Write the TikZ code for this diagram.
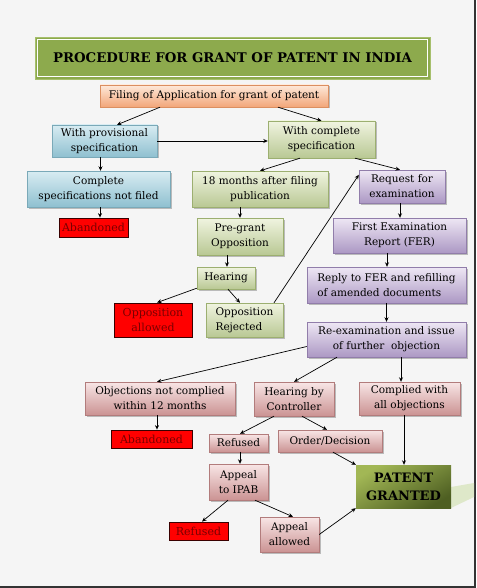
\documentclass[tikz,border=0pt]{standalone}
\usepackage{fontspec}
\setmainfont{DejaVu Serif}
\usetikzlibrary{arrows.meta,shadows,calc}
\definecolor{bgc}{HTML}{F5F5F5}
\definecolor{blueL}{HTML}{D8ECF2}
\definecolor{blueD}{HTML}{8FC0D0}
\definecolor{blueB}{HTML}{7AA9B8}
\definecolor{greenL}{HTML}{F0F4E0}
\definecolor{greenD}{HTML}{B9C894}
\definecolor{greenB}{HTML}{9CAF70}
\definecolor{purpL}{HTML}{EEE7F4}
\definecolor{purpD}{HTML}{AC98C4}
\definecolor{purpB}{HTML}{917DAA}
\definecolor{pinkL}{HTML}{F8E6E6}
\definecolor{pinkD}{HTML}{CB9393}
\definecolor{pinkB}{HTML}{B27C7C}
\definecolor{orL}{HTML}{FEE9DA}
\definecolor{orD}{HTML}{F2A679}
\definecolor{orB}{HTML}{DB8F61}
\definecolor{titleG}{HTML}{8DAA4D}
\definecolor{titleB}{HTML}{A6BF6C}
\definecolor{patL}{HTML}{A2B755}
\definecolor{patD}{HTML}{4E5F22}
\definecolor{redtx}{HTML}{7A0000}
\definecolor{redB}{HTML}{3A0000}
\tikzset{
  sz/.style 2 args={minimum width=#1pt, minimum height=#2pt},
  base/.style={inner sep=0pt, align=center, font=\fontsize{10.5}{15}\selectfont,
    drop shadow={shadow xshift=1.5pt, shadow yshift=-1.5pt, opacity=0.35, fill=black!70}},
  bluebox/.style={base, top color=blueL, bottom color=blueD, draw=blueB},
  greenbox/.style={base, top color=greenL, bottom color=greenD, draw=greenB},
  purpbox/.style={base, top color=purpL, bottom color=purpD, draw=purpB},
  pinkbox/.style={base, top color=pinkL, bottom color=pinkD, draw=pinkB},
  orbox/.style={base, top color=orL, bottom color=orD, draw=orB},
  redbox/.style={inner sep=0pt, align=center, font=\fontsize{11}{15}\selectfont,
    fill=red, draw=redB, line width=0.8pt, text=redtx},
  arr/.style={-{Stealth[length=4.5pt,width=4pt]}, line width=0.7pt, black}
}
\begin{document}
\begin{tikzpicture}[x=1pt,y=-1pt]
\fill[bgc] (0,0) rectangle (476,588);
\useasboundingbox (0,0) rectangle (476,588);
\draw[line width=2pt, black!80] (475,0) -- (475,587) -- (0,587);

% title
\node[sz={395}{42}, fill=titleG, draw=titleB, inner sep=0pt,
  font=\fontsize{13.3}{15}\selectfont\bfseries] (title) at (232.5,58)
  {PROCEDURE FOR GRANT OF PATENT IN INDIA};
\draw[white, line width=0.7pt] ([shift={(3,3)}]title.north west) rectangle ([shift={(-3,-3)}]title.south east);

% patent shadow wedge
\fill[green!20!olive!25!white, opacity=0.8] (451,487) -- (474,483) -- (474,497) -- (451,508) -- cycle;

\node[orbox, sz={228}{22}] (filing) at (214,96) {Filing of Application for grant of patent};
\node[bluebox, sz={105}{32}] (prov) at (104.5,141) {With provisional\\specification};
\node[greenbox, sz={107}{37}] (comp) at (321.5,139.5) {With complete\\specification};
\node[bluebox, sz={143}{36}] (notfiled) at (98.5,189) {Complete\\specifications not filed};
\node[redbox, sz={69}{19}] (aband1) at (93.5,227.5) {Abandoned};
\node[greenbox, sz={136}{36}] (months) at (260,189) {18 months after filing\\publication};
\node[purpbox, sz={86}{33}] (request) at (402,186.5) {Request for\\examination};
\node[greenbox, sz={86}{37}] (pregrant) at (240,236.5) {Pre-grant\\Opposition};
\node[purpbox, sz={133}{35}] (fer) at (399.5,235.5) {First Examination\\Report (FER)};
\node[greenbox, sz={58}{22}] (hearing) at (226,278) {Hearing};
\node[purpbox, sz={159}{36}, align=left] (reply) at (386.5,285) {Reply to FER and refilling\\of amended documents};
\node[redbox, sz={78}{34}] (oppall) at (153,320) {Opposition\\allowed};
\node[greenbox, sz={77}{34}, align=left] (opprej) at (244.5,320) {Opposition\\Rejected};
\node[purpbox, sz={159}{35}] (reexam) at (386.5,339.5) {Re-examination and issue\\of further\ \ objection};
\node[pinkbox, sz={150}{33}] (objnot) at (160,398.5) {Objections not complied\\within 12 months};
\node[pinkbox, sz={80}{34}] (hearctrl) at (294,399) {Hearing by\\Controller};
\node[pinkbox, sz={101}{33}] (complied) at (409.5,398.5) {Complied with\\all objections};
\node[redbox, sz={81}{18}] (aband2) at (151.5,439) {Abandoned};
\node[pinkbox, sz={59}{18}] (refused1) at (238.5,443) {Refused};
\node[pinkbox, sz={104}{22}] (order) at (330,441) {Order/Decision};
\node[pinkbox, sz={59}{36}] (appeal) at (238.5,482) {Appeal\\to IPAB};
\node[sz={95}{43}, inner sep=0pt, align=center, top color=patL, bottom color=patD, shading angle=30,
  font=\fontsize{13}{18}\selectfont\bfseries] (patent) at (403.5,486.5) {PATENT\\GRANTED};
\node[redbox, sz={59}{18}] (refused2) at (198.5,531) {Refused};
\node[pinkbox, sz={59}{35}] (allowed) at (289.5,534.5) {Appeal\\allowed};

% connectors
\draw[arr] ([xshift=-54pt]filing.south) -- ([xshift=12.5pt]prov.north);
\draw[arr] ([xshift=64pt]filing.south) -- (comp.north);
\draw[arr] (prov.east) -- (prov.east -| comp.west);
\draw[arr] ([xshift=-4pt]prov.south) -- ([xshift=-4pt]prov.south |- notfiled.north);
\draw[arr] ([xshift=1.5pt]notfiled.south) -- ([xshift=1.5pt]notfiled.south |- aband1.north);
\draw[arr] ([xshift=-21.5pt]comp.south) -- (months.north);
\draw[arr] ([xshift=33.5pt]comp.south) -- ([xshift=-2pt]request.north);
\draw[arr] ([xshift=-20pt]months.south) -- ([xshift=-20pt]months.south |- pregrant.north);
\draw[arr] ([xshift=-2pt]request.south) -- ([xshift=-2pt]request.south |- fer.north);
\draw[arr] ([xshift=-13pt]pregrant.south) -- ([xshift=-13pt]pregrant.south |- hearing.north);
\draw[arr] ([xshift=-12.5pt]fer.south) -- ([xshift=-12.5pt]fer.south |- reply.north);
\draw[arr] ([yshift=1pt]hearing.south west) -- ([xshift=4pt]oppall.north);
\draw[arr] ([xshift=2pt]hearing.south) -- ([xshift=-4.5pt]opprej.north);
\draw[arr] ([xshift=29.5pt]opprej.north) -- ([yshift=-5pt]request.north west);
\draw[arr] (reply.south) -- (reply.south |- reexam.north);
\draw[arr] ([yshift=-7pt]reexam.west) -- ([xshift=-3pt]objnot.north);
\draw[arr] ([xshift=-49.5pt]reexam.south) -- (hearctrl.north);
\draw[arr] ([xshift=14.5pt]reexam.south) -- ([xshift=14.5pt]reexam.south |- complied.north);
\draw[arr] ([xshift=-3pt]objnot.south) -- ([xshift=-3pt]objnot.south |- aband2.north);
\draw[arr] ([xshift=-20pt]hearctrl.south) -- ([xshift=1.5pt]refused1.north);
\draw[arr] ([xshift=8pt]hearctrl.south) -- ([xshift=-3pt]order.north);
\draw[arr] ([xshift=1.5pt]refused1.south) -- ([xshift=1.5pt]refused1.south |- appeal.north);
\draw[arr] ([xshift=3pt]order.south) -- (patent.north west);
\draw[arr] ([xshift=-5.5pt]complied.south) -- ([xshift=-5.5pt]complied.south |- patent.north);
\draw[arr] ([xshift=-10.5pt]appeal.south) -- ([xshift=3.5pt]refused2.north);
\draw[arr] ([xshift=16.5pt]appeal.south) -- ([xshift=3.5pt]allowed.north);
\draw[arr] (allowed.east) -- (patent.south west);
\end{tikzpicture}
\end{document}
